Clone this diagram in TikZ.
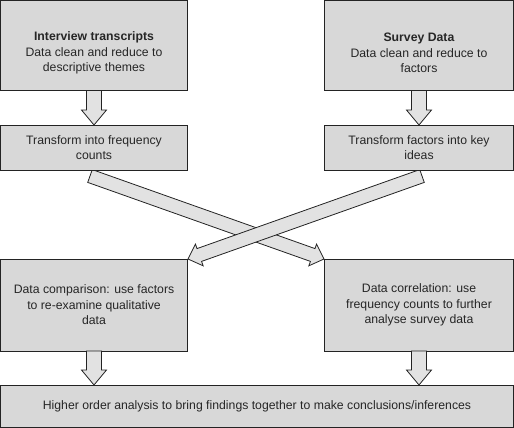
\documentclass[tikz,border=0pt]{standalone}
\usepackage{fontspec}
\setmainfont{Liberation Sans}
\usetikzlibrary{calc}
\definecolor{boxgray}{RGB}{216,216,216}
\definecolor{arrgray}{RGB}{226,226,226}
\definecolor{edge}{RGB}{35,35,35}
\tikzset{
  box/.style={draw=edge, fill=boxgray, line width=1pt, inner sep=0pt, outer sep=0pt, anchor=north west},
  txt/.style={align=center, font=\fontsize{12.25}{15.5}\selectfont, text=black!85, inner sep=0pt},
  blockarrow/.style={draw=edge, fill=arrgray, line width=0.8pt, line join=miter},
}
% #1 tail, #2 tip, #3 half shaft, #4 half head, #5 head length
\newcommand\blockarr[5]{%
  \coordinate (ahb) at ($(#2)!#5!(#1)$);
  \draw[blockarrow] ($(#1)!#3!90:(#2)$) -- ($(ahb)!#3!-90:(#1)$) -- ($(ahb)!#4!-90:(#1)$) -- (#2)
     -- ($(ahb)!#4!90:(#1)$) -- ($(ahb)!#3!90:(#1)$) -- ($(#1)!#3!-90:(#2)$) -- cycle;
}
\begin{document}
\begin{tikzpicture}[x=1pt, y=-1pt]
\useasboundingbox (0,0) rectangle (514,428);
% diagonal arrows (drawn first, boxes on top)
\coordinate (b3tail) at (90,176);
\coordinate (b4tail) at (422,176);
\coordinate (b6tip) at (324,259);
\coordinate (b5tip) at (188,259);
\blockarr{b3tail}{b6tip}{6.8pt}{11.5pt}{12pt}
\blockarr{b4tail}{b5tip}{6.8pt}{11.5pt}{12pt}
% boxes
\node[box, minimum width=187pt, minimum height=90pt] (b1) at (0.5,0.5) {};
\node[box, minimum width=189pt, minimum height=90pt] (b2) at (324.5,0.5) {};
\node[box, minimum width=187pt, minimum height=45pt] (b3) at (0.5,125) {};
\node[box, minimum width=189pt, minimum height=45pt] (b4) at (324.5,125) {};
\node[box, minimum width=187pt, minimum height=92pt] (b5) at (0.5,259) {};
\node[box, minimum width=189pt, minimum height=92pt] (b6) at (324.5,259) {};
\node[box, minimum width=513pt, minimum height=42.5pt] (b7) at (0.5,385) {};
% texts
\node[txt] (t1) at ([yshift=-7.5pt]b1.center) {\textbf{Interview transcripts}\\Data clean and reduce to\\descriptive themes};
\node[txt] (t2) at ([yshift=-7.5pt]b2.center) {\textbf{Survey Data}\\Data clean and reduce to\\factors};
\node[txt] (t3) at (b3.center) {Transform into frequency\\counts};
\node[txt] (t4) at (b4.center) {Transform factors into key\\ideas};
\node[txt] (t5) at (b5.center) {Data comparison: use factors\\to re-examine qualitative\\data};
\node[txt] (t6) at (b6.center) {Data correlation: use\\frequency counts to further\\analyse survey data};
\node[txt] (t7) at (b7.center) {Higher order analysis to bring findings together to make conclusions/inferences};
% vertical arrows
\blockarr{b1.south}{b3.north}{7.5pt}{12.5pt}{15pt}
\blockarr{b2.south}{b4.north}{7.5pt}{12.5pt}{15pt}
\coordinate (b7l) at (b5.south |- b7.north);
\coordinate (b7r) at (b6.south |- b7.north);
\blockarr{b5.south}{b7l}{7.5pt}{12.5pt}{15pt}
\blockarr{b6.south}{b7r}{7.5pt}{12.5pt}{15pt}
\end{tikzpicture}
\end{document}
